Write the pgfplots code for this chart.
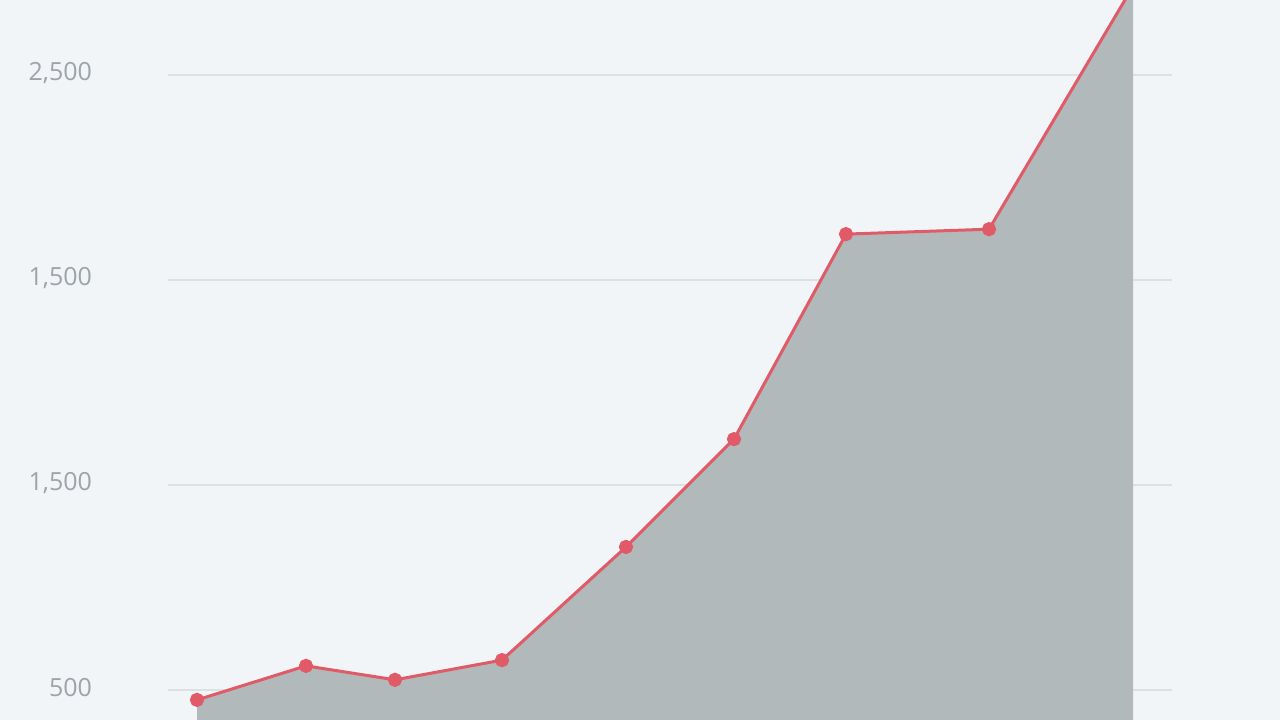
\documentclass[border=0pt]{standalone}
\usepackage{pgfplots}
\pgfplotsset{compat=1.18}
\usepackage{fontspec}
\setmainfont{Open Sans}
\definecolor{bgc}{HTML}{F2F5F8}
\definecolor{gridc}{HTML}{DCE1E5}
\definecolor{areac}{HTML}{B2B9BA}
\definecolor{linec}{HTML}{E05A68}
\definecolor{labc}{HTML}{9EA3A7}
\begin{document}
\begin{tikzpicture}
\begin{axis}[
  at={(0,0)}, anchor=south west,
  scale only axis, width=640pt, height=360pt,
  xmin=0, xmax=1280, ymin=428, ymax=2184,
  axis line style={draw=none}, ticks=none,
  axis background/.style={fill=bgc},
  clip=true,
]
% grid lines
\addplot[gridc, line width=1pt] coordinates {(168,500) (1172,500)};
\addplot[gridc, line width=1pt] coordinates {(168,1000) (1172,1000)};
\addplot[gridc, line width=1pt] coordinates {(168,1500) (1172,1500)};
\addplot[gridc, line width=1pt] coordinates {(168,2000) (1172,2000)};
% area
\addplot[fill=areac, draw=none] coordinates {
 (197,477) (306,560) (395,526) (502,574) (626,850) (734,1113) (846,1613) (989,1625) (1133,2217)
} \closedcycle;
% line
\addplot[linec, line width=1.5pt, mark=*, mark size=2.8pt, mark options={fill=linec, draw=linec}] coordinates {
 (197,477) (306,560) (395,526) (502,574) (626,850) (734,1113) (846,1613) (989,1625) (1133,2217)
};
\node[anchor=east, text=labc, font=\fontsize{12.5}{15}\selectfont] at (axis cs:99,507) {500};
\node[anchor=east, text=labc, font=\fontsize{12.5}{15}\selectfont] at (axis cs:99,1007) {1,500};
\node[anchor=east, text=labc, font=\fontsize{12.5}{15}\selectfont] at (axis cs:99,1507) {1,500};
\node[anchor=east, text=labc, font=\fontsize{12.5}{15}\selectfont] at (axis cs:99,2007) {2,500};
\end{axis}
\end{tikzpicture}
\end{document}
